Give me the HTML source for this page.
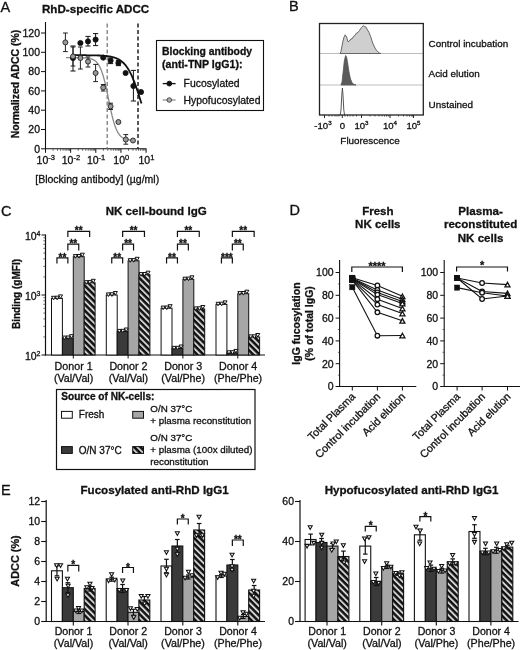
<!DOCTYPE html><html><head><meta charset="utf-8"><title>Figure</title><style>html,body{margin:0;padding:0;background:#fff}svg{display:block}text{stroke:#111;stroke-width:0.3px;font-family:'Liberation Sans', Arial, Helvetica, sans-serif}</style></head><body>
<svg width="520" height="650" viewBox="0 0 520 650">
<defs><pattern id="h" patternUnits="userSpaceOnUse" width="4.4" height="4.4" patternTransform="rotate(45)"><rect width="4.4" height="4.4" fill="#d2d2d2"/><rect width="4.4" height="2.5" fill="#111"/></pattern></defs>
<rect width="520" height="650" fill="#fff"/>
<text x="0.60" y="12.30" font-size="14.5" text-anchor="start" fill="#111">A</text>
<text x="42.00" y="12.50" font-size="11.6" text-anchor="start" font-weight="bold" fill="#111">RhD-specific ADCC</text>
<line x1="45.50" y1="22.00" x2="45.50" y2="149.30" stroke="#111" stroke-width="1.1"/>
<line x1="45.00" y1="148.80" x2="146.40" y2="148.80" stroke="#111" stroke-width="1.1"/>
<line x1="41.00" y1="148.80" x2="45.50" y2="148.80" stroke="#111" stroke-width="1"/>
<text x="40.00" y="152.60" font-size="10.5" text-anchor="end" fill="#111">0</text>
<line x1="41.00" y1="129.50" x2="45.50" y2="129.50" stroke="#111" stroke-width="1"/>
<text x="40.00" y="133.30" font-size="10.5" text-anchor="end" fill="#111">20</text>
<line x1="41.00" y1="110.20" x2="45.50" y2="110.20" stroke="#111" stroke-width="1"/>
<text x="40.00" y="114.00" font-size="10.5" text-anchor="end" fill="#111">40</text>
<line x1="41.00" y1="90.90" x2="45.50" y2="90.90" stroke="#111" stroke-width="1"/>
<text x="40.00" y="94.70" font-size="10.5" text-anchor="end" fill="#111">60</text>
<line x1="41.00" y1="71.60" x2="45.50" y2="71.60" stroke="#111" stroke-width="1"/>
<text x="40.00" y="75.40" font-size="10.5" text-anchor="end" fill="#111">80</text>
<line x1="41.00" y1="52.30" x2="45.50" y2="52.30" stroke="#111" stroke-width="1"/>
<text x="40.00" y="56.10" font-size="10.5" text-anchor="end" fill="#111">100</text>
<line x1="41.00" y1="33.00" x2="45.50" y2="33.00" stroke="#111" stroke-width="1"/>
<text x="40.00" y="36.80" font-size="10.5" text-anchor="end" fill="#111">120</text>
<text x="18.60" y="84.00" font-size="10.5" text-anchor="middle" font-weight="bold" transform="rotate(-90 18.60 84.00)" fill="#111">Normalized ADCC (%)</text>
<line x1="45.50" y1="148.80" x2="45.50" y2="152.80" stroke="#111" stroke-width="1"/>
<text x="45.80" y="163.80" font-size="10.5" text-anchor="middle" fill="#111">10<tspan dy="-4" font-size="7.5">-3</tspan></text>
<line x1="53.07" y1="148.80" x2="53.07" y2="150.80" stroke="#111" stroke-width="0.6"/>
<line x1="57.50" y1="148.80" x2="57.50" y2="150.80" stroke="#111" stroke-width="0.6"/>
<line x1="60.64" y1="148.80" x2="60.64" y2="150.80" stroke="#111" stroke-width="0.6"/>
<line x1="63.08" y1="148.80" x2="63.08" y2="150.80" stroke="#111" stroke-width="0.6"/>
<line x1="65.07" y1="148.80" x2="65.07" y2="150.80" stroke="#111" stroke-width="0.6"/>
<line x1="66.75" y1="148.80" x2="66.75" y2="150.80" stroke="#111" stroke-width="0.6"/>
<line x1="68.21" y1="148.80" x2="68.21" y2="150.80" stroke="#111" stroke-width="0.6"/>
<line x1="69.50" y1="148.80" x2="69.50" y2="150.80" stroke="#111" stroke-width="0.6"/>
<line x1="70.65" y1="148.80" x2="70.65" y2="152.80" stroke="#111" stroke-width="1"/>
<text x="70.95" y="163.80" font-size="10.5" text-anchor="middle" fill="#111">10<tspan dy="-4" font-size="7.5">-2</tspan></text>
<line x1="78.22" y1="148.80" x2="78.22" y2="150.80" stroke="#111" stroke-width="0.6"/>
<line x1="82.65" y1="148.80" x2="82.65" y2="150.80" stroke="#111" stroke-width="0.6"/>
<line x1="85.79" y1="148.80" x2="85.79" y2="150.80" stroke="#111" stroke-width="0.6"/>
<line x1="88.23" y1="148.80" x2="88.23" y2="150.80" stroke="#111" stroke-width="0.6"/>
<line x1="90.22" y1="148.80" x2="90.22" y2="150.80" stroke="#111" stroke-width="0.6"/>
<line x1="91.90" y1="148.80" x2="91.90" y2="150.80" stroke="#111" stroke-width="0.6"/>
<line x1="93.36" y1="148.80" x2="93.36" y2="150.80" stroke="#111" stroke-width="0.6"/>
<line x1="94.65" y1="148.80" x2="94.65" y2="150.80" stroke="#111" stroke-width="0.6"/>
<line x1="95.80" y1="148.80" x2="95.80" y2="152.80" stroke="#111" stroke-width="1"/>
<text x="96.10" y="163.80" font-size="10.5" text-anchor="middle" fill="#111">10<tspan dy="-4" font-size="7.5">-1</tspan></text>
<line x1="103.37" y1="148.80" x2="103.37" y2="150.80" stroke="#111" stroke-width="0.6"/>
<line x1="107.80" y1="148.80" x2="107.80" y2="150.80" stroke="#111" stroke-width="0.6"/>
<line x1="110.94" y1="148.80" x2="110.94" y2="150.80" stroke="#111" stroke-width="0.6"/>
<line x1="113.38" y1="148.80" x2="113.38" y2="150.80" stroke="#111" stroke-width="0.6"/>
<line x1="115.37" y1="148.80" x2="115.37" y2="150.80" stroke="#111" stroke-width="0.6"/>
<line x1="117.05" y1="148.80" x2="117.05" y2="150.80" stroke="#111" stroke-width="0.6"/>
<line x1="118.51" y1="148.80" x2="118.51" y2="150.80" stroke="#111" stroke-width="0.6"/>
<line x1="119.80" y1="148.80" x2="119.80" y2="150.80" stroke="#111" stroke-width="0.6"/>
<line x1="120.95" y1="148.80" x2="120.95" y2="152.80" stroke="#111" stroke-width="1"/>
<text x="121.25" y="163.80" font-size="10.5" text-anchor="middle" fill="#111">10<tspan dy="-4" font-size="7.5">0</tspan></text>
<line x1="128.52" y1="148.80" x2="128.52" y2="150.80" stroke="#111" stroke-width="0.6"/>
<line x1="132.95" y1="148.80" x2="132.95" y2="150.80" stroke="#111" stroke-width="0.6"/>
<line x1="136.09" y1="148.80" x2="136.09" y2="150.80" stroke="#111" stroke-width="0.6"/>
<line x1="138.53" y1="148.80" x2="138.53" y2="150.80" stroke="#111" stroke-width="0.6"/>
<line x1="140.52" y1="148.80" x2="140.52" y2="150.80" stroke="#111" stroke-width="0.6"/>
<line x1="142.20" y1="148.80" x2="142.20" y2="150.80" stroke="#111" stroke-width="0.6"/>
<line x1="143.66" y1="148.80" x2="143.66" y2="150.80" stroke="#111" stroke-width="0.6"/>
<line x1="144.95" y1="148.80" x2="144.95" y2="150.80" stroke="#111" stroke-width="0.6"/>
<line x1="146.10" y1="148.80" x2="146.10" y2="152.80" stroke="#111" stroke-width="1"/>
<text x="146.40" y="163.80" font-size="10.5" text-anchor="middle" fill="#111">10<tspan dy="-4" font-size="7.5">1</tspan></text>
<text x="97.20" y="182.50" font-size="10.5" text-anchor="middle" fill="#111">[Blocking antibody] (µg/ml)</text>
<line x1="107.20" y1="23.50" x2="107.20" y2="148.80" stroke="#7a7a7a" stroke-width="1.3" stroke-dasharray="4 2.5"/>
<line x1="138.00" y1="23.50" x2="138.00" y2="148.80" stroke="#111" stroke-width="1.4" stroke-dasharray="4 2.5"/>
<path d="M66.0 57.6L67.0 57.6L68.0 57.6L69.0 57.6L70.0 57.6L71.0 57.6L72.0 57.6L73.0 57.6L74.0 57.6L75.0 57.6L76.0 57.6L77.0 57.6L78.0 57.7L79.0 57.7L80.0 57.7L81.0 57.7L82.0 57.8L83.0 57.8L84.0 57.8L85.0 57.9L86.0 58.0L87.0 58.1L88.0 58.2L89.0 58.4L90.0 58.6L91.0 58.9L92.0 59.2L93.0 59.6L94.0 60.1L95.0 60.8L96.0 61.6L97.0 62.6L98.0 63.9L99.0 65.4L100.0 67.3L101.0 69.5L102.0 72.1L103.0 75.2L104.0 78.8L105.0 82.7L106.0 87.1L107.0 91.7L108.0 96.6L109.0 101.5L110.0 106.4L111.0 111.0L112.0 115.4L113.0 119.3L114.0 122.9L115.0 126.0L116.0 128.6L117.0 130.8L118.0 132.7L119.0 134.2L120.0 135.5L121.0 136.5L122.0 137.3L123.0 138.0L124.0 138.5L125.0 138.9L126.0 139.2L127.0 139.5L128.0 139.7L129.0 139.9L130.0 140.0L131.0 140.1L132.0 140.2L133.0 140.3L134.0 140.3" stroke="#888" stroke-width="1.3" fill="none"/>
<path d="M72.0 55.2L72.5 55.2L73.0 55.2L73.5 55.2L74.0 55.2L74.5 55.2L75.0 55.2L75.5 55.2L76.0 55.2L76.5 55.2L77.0 55.2L77.5 55.2L78.0 55.2L78.5 55.2L79.0 55.2L79.5 55.2L80.0 55.2L80.5 55.2L81.0 55.2L81.5 55.2L82.0 55.2L82.5 55.2L83.0 55.2L83.5 55.2L84.0 55.2L84.5 55.2L85.0 55.2L85.5 55.2L86.0 55.2L86.5 55.3L87.0 55.3L87.5 55.3L88.0 55.3L88.5 55.3L89.0 55.3L89.5 55.3L90.0 55.3L90.5 55.3L91.0 55.3L91.5 55.3L92.0 55.3L92.5 55.3L93.0 55.3L93.5 55.3L94.0 55.3L94.5 55.4L95.0 55.4L95.5 55.4L96.0 55.4L96.5 55.4L97.0 55.4L97.5 55.4L98.0 55.5L98.5 55.5L99.0 55.5L99.5 55.5L100.0 55.5L100.5 55.6L101.0 55.6L101.5 55.6L102.0 55.6L102.5 55.7L103.0 55.7L103.5 55.7L104.0 55.8L104.5 55.8L105.0 55.9L105.5 55.9L106.0 56.0L106.5 56.0L107.0 56.1L107.5 56.1L108.0 56.2L108.5 56.3L109.0 56.4L109.5 56.4L110.0 56.5L110.5 56.6L111.0 56.7L111.5 56.8L112.0 56.9L112.5 57.0L113.0 57.2L113.5 57.3L114.0 57.5L114.5 57.6L115.0 57.8L115.5 58.0L116.0 58.2L116.5 58.4L117.0 58.6L117.5 58.8L118.0 59.0L118.5 59.3L119.0 59.6L119.5 59.9L120.0 60.2L120.5 60.5L121.0 60.9L121.5 61.3L122.0 61.7L122.5 62.1L123.0 62.5L123.5 63.0L124.0 63.5L124.5 64.0L125.0 64.6L125.5 65.2L126.0 65.8L126.5 66.5L127.0 67.2L127.5 67.9L128.0 68.7L128.5 69.5L129.0 70.4L129.5 71.2L130.0 72.2L130.5 73.2L131.0 74.2L131.5 75.2L132.0 76.3L132.5 77.5L133.0 78.6L133.5 79.9L134.0 81.1L134.5 82.4L135.0 83.8L135.5 85.2L136.0 86.6L136.5 88.0L137.0 89.5L137.5 91.0L138.0 92.5L138.5 94.1L139.0 95.6L139.5 97.2L140.0 98.8L140.5 100.4L141.0 102.0L141.5 103.6" stroke="#111" stroke-width="1.8" fill="none"/>
<line x1="73.00" y1="46.00" x2="73.00" y2="71.00" stroke="#111" stroke-width="1"/>
<line x1="70.40" y1="46.00" x2="75.60" y2="46.00" stroke="#111" stroke-width="1"/>
<line x1="70.40" y1="71.00" x2="75.60" y2="71.00" stroke="#111" stroke-width="1"/>
<line x1="88.00" y1="36.40" x2="88.00" y2="46.00" stroke="#111" stroke-width="1"/>
<line x1="85.40" y1="36.40" x2="90.60" y2="36.40" stroke="#111" stroke-width="1"/>
<line x1="85.40" y1="46.00" x2="90.60" y2="46.00" stroke="#111" stroke-width="1"/>
<line x1="95.60" y1="33.60" x2="95.60" y2="45.60" stroke="#111" stroke-width="1"/>
<line x1="93.00" y1="33.60" x2="98.20" y2="33.60" stroke="#111" stroke-width="1"/>
<line x1="93.00" y1="45.60" x2="98.20" y2="45.60" stroke="#111" stroke-width="1"/>
<line x1="110.60" y1="58.00" x2="110.60" y2="63.60" stroke="#111" stroke-width="1"/>
<line x1="108.00" y1="58.00" x2="113.20" y2="58.00" stroke="#111" stroke-width="1"/>
<line x1="108.00" y1="63.60" x2="113.20" y2="63.60" stroke="#111" stroke-width="1"/>
<line x1="118.40" y1="60.40" x2="118.40" y2="65.60" stroke="#111" stroke-width="1"/>
<line x1="115.80" y1="60.40" x2="121.00" y2="60.40" stroke="#111" stroke-width="1"/>
<line x1="115.80" y1="65.60" x2="121.00" y2="65.60" stroke="#111" stroke-width="1"/>
<line x1="133.40" y1="70.40" x2="133.40" y2="101.00" stroke="#111" stroke-width="1"/>
<line x1="130.80" y1="70.40" x2="136.00" y2="70.40" stroke="#111" stroke-width="1"/>
<line x1="130.80" y1="101.00" x2="136.00" y2="101.00" stroke="#111" stroke-width="1"/>
<line x1="65.40" y1="33.00" x2="65.40" y2="51.60" stroke="#222" stroke-width="1"/>
<line x1="63.00" y1="33.00" x2="67.80" y2="33.00" stroke="#222" stroke-width="1"/>
<line x1="63.00" y1="51.60" x2="67.80" y2="51.60" stroke="#222" stroke-width="1"/>
<line x1="73.00" y1="47.00" x2="73.00" y2="66.00" stroke="#222" stroke-width="1"/>
<line x1="70.60" y1="47.00" x2="75.40" y2="47.00" stroke="#222" stroke-width="1"/>
<line x1="70.60" y1="66.00" x2="75.40" y2="66.00" stroke="#222" stroke-width="1"/>
<line x1="80.40" y1="47.00" x2="80.40" y2="69.00" stroke="#222" stroke-width="1"/>
<line x1="78.00" y1="47.00" x2="82.80" y2="47.00" stroke="#222" stroke-width="1"/>
<line x1="78.00" y1="69.00" x2="82.80" y2="69.00" stroke="#222" stroke-width="1"/>
<line x1="88.00" y1="57.00" x2="88.00" y2="67.00" stroke="#222" stroke-width="1"/>
<line x1="85.60" y1="57.00" x2="90.40" y2="57.00" stroke="#222" stroke-width="1"/>
<line x1="85.60" y1="67.00" x2="90.40" y2="67.00" stroke="#222" stroke-width="1"/>
<line x1="95.60" y1="64.40" x2="95.60" y2="81.60" stroke="#222" stroke-width="1"/>
<line x1="93.20" y1="64.40" x2="98.00" y2="64.40" stroke="#222" stroke-width="1"/>
<line x1="93.20" y1="81.60" x2="98.00" y2="81.60" stroke="#222" stroke-width="1"/>
<line x1="103.20" y1="84.50" x2="103.20" y2="91.00" stroke="#222" stroke-width="1"/>
<line x1="100.80" y1="84.50" x2="105.60" y2="84.50" stroke="#222" stroke-width="1"/>
<line x1="100.80" y1="91.00" x2="105.60" y2="91.00" stroke="#222" stroke-width="1"/>
<line x1="110.60" y1="103.20" x2="110.60" y2="109.50" stroke="#222" stroke-width="1"/>
<line x1="108.20" y1="103.20" x2="113.00" y2="103.20" stroke="#222" stroke-width="1"/>
<line x1="108.20" y1="109.50" x2="113.00" y2="109.50" stroke="#222" stroke-width="1"/>
<line x1="125.80" y1="134.60" x2="125.80" y2="144.20" stroke="#222" stroke-width="1"/>
<line x1="123.40" y1="134.60" x2="128.20" y2="134.60" stroke="#222" stroke-width="1"/>
<line x1="123.40" y1="144.20" x2="128.20" y2="144.20" stroke="#222" stroke-width="1"/>
<circle cx="73.00" cy="58.00" r="2.6" fill="#111" stroke="#111" stroke-width="0.8"/>
<circle cx="80.40" cy="43.00" r="2.6" fill="#111" stroke="#111" stroke-width="0.8"/>
<circle cx="88.00" cy="41.40" r="2.6" fill="#111" stroke="#111" stroke-width="0.8"/>
<circle cx="95.60" cy="39.60" r="2.6" fill="#111" stroke="#111" stroke-width="0.8"/>
<circle cx="103.20" cy="57.60" r="2.6" fill="#111" stroke="#111" stroke-width="0.8"/>
<circle cx="110.60" cy="60.60" r="2.6" fill="#111" stroke="#111" stroke-width="0.8"/>
<circle cx="118.40" cy="63.00" r="2.6" fill="#111" stroke="#111" stroke-width="0.8"/>
<circle cx="125.60" cy="73.00" r="2.6" fill="#111" stroke="#111" stroke-width="0.8"/>
<circle cx="133.40" cy="86.00" r="2.6" fill="#111" stroke="#111" stroke-width="0.8"/>
<circle cx="141.00" cy="92.00" r="2.6" fill="#111" stroke="#111" stroke-width="0.8"/>
<circle cx="65.40" cy="42.40" r="2.5" fill="#999" stroke="#222" stroke-width="0.9"/>
<circle cx="73.00" cy="56.40" r="2.5" fill="#999" stroke="#222" stroke-width="0.9"/>
<circle cx="80.40" cy="58.00" r="2.5" fill="#999" stroke="#222" stroke-width="0.9"/>
<circle cx="88.00" cy="61.60" r="2.5" fill="#999" stroke="#222" stroke-width="0.9"/>
<circle cx="95.60" cy="73.00" r="2.5" fill="#999" stroke="#222" stroke-width="0.9"/>
<circle cx="103.20" cy="87.60" r="2.5" fill="#999" stroke="#222" stroke-width="0.9"/>
<circle cx="110.60" cy="106.40" r="2.5" fill="#999" stroke="#222" stroke-width="0.9"/>
<circle cx="118.40" cy="122.00" r="2.5" fill="#999" stroke="#222" stroke-width="0.9"/>
<circle cx="125.80" cy="139.50" r="2.5" fill="#999" stroke="#222" stroke-width="0.9"/>
<circle cx="133.00" cy="140.50" r="2.5" fill="#999" stroke="#222" stroke-width="0.9"/>
<rect x="156.50" y="40.50" width="107.00" height="70.00" fill="#fff" stroke="#111" stroke-width="1.1"/>
<text x="162.00" y="55.30" font-size="10.4" text-anchor="start" font-weight="bold" fill="#111">Blocking antibody</text>
<text x="162.00" y="67.60" font-size="10.6" text-anchor="start" font-weight="bold" fill="#111">(anti-TNP IgG1):</text>
<line x1="162.70" y1="83.60" x2="175.60" y2="83.60" stroke="#111" stroke-width="1.3"/>
<circle cx="169.30" cy="83.60" r="2.4" fill="#111" stroke="#111" stroke-width="1"/>
<text x="183.60" y="87.00" font-size="10.4" text-anchor="start" fill="#111">Fucosylated</text>
<line x1="162.70" y1="100.00" x2="175.60" y2="100.00" stroke="#888" stroke-width="1.2"/>
<circle cx="169.30" cy="100.00" r="2.3" fill="#aaa" stroke="#333" stroke-width="0.8"/>
<text x="183.60" y="103.50" font-size="10.4" text-anchor="start" fill="#111">Hypofucosylated</text>
<text x="289.00" y="11.40" font-size="14.5" text-anchor="start" fill="#111">B</text>
<path d="M319.5 53.5H423.3" stroke="#bdbdbd" stroke-width="1.2" fill="none"/>
<path d="M319.5 85H423.3" stroke="#bdbdbd" stroke-width="1.2" fill="none"/>
<path d="M340 53.5L341 51.5L342.2 45L343.7 38L345.2 34.8L346.6 37L348 41.8L349.3 41L351 38.8L352 39L353.5 36.3L355 35.5L356.5 33L358 32.5L359.5 30.5L361.5 27.5L363.5 25.5L364.8 27L365.8 26.8L367.5 30L369 32.5L370.6 36.5L372 41L373.5 45L375.5 49L377.5 51.5L379.5 53L381 53.5Z" stroke="#666" stroke-width="1" fill="#cfcfcf" stroke-linejoin="round"/>
<path d="M341 85L342 82L343 73L344.3 61L345.6 55.5L346.6 57L347.8 64L349 72L350.5 79L352 82.5L354 84.5L356 85Z" stroke="#555" stroke-width="0.8" fill="#5a5a5a" stroke-linejoin="round"/>
<path d="M340.2 115L341 110L341.8 95L342.4 88L343 95L343.8 110L344.6 115" stroke="#444" stroke-width="0.9" fill="#fff" stroke-linejoin="round"/>
<rect x="319.50" y="23.50" width="103.80" height="91.50" fill="none" stroke="#222" stroke-width="1.3"/>
<line x1="324.50" y1="115.00" x2="324.50" y2="118.00" stroke="#111" stroke-width="0.9"/>
<line x1="342.30" y1="115.00" x2="342.30" y2="118.00" stroke="#111" stroke-width="0.9"/>
<line x1="361.50" y1="115.00" x2="361.50" y2="118.00" stroke="#111" stroke-width="0.9"/>
<line x1="390.00" y1="115.00" x2="390.00" y2="118.00" stroke="#111" stroke-width="0.9"/>
<line x1="413.50" y1="115.00" x2="413.50" y2="118.00" stroke="#111" stroke-width="0.9"/>
<line x1="329.00" y1="115.00" x2="329.00" y2="116.80" stroke="#111" stroke-width="0.5"/>
<line x1="332.00" y1="115.00" x2="332.00" y2="116.80" stroke="#111" stroke-width="0.5"/>
<line x1="335.00" y1="115.00" x2="335.00" y2="116.80" stroke="#111" stroke-width="0.5"/>
<line x1="337.00" y1="115.00" x2="337.00" y2="116.80" stroke="#111" stroke-width="0.5"/>
<line x1="339.00" y1="115.00" x2="339.00" y2="116.80" stroke="#111" stroke-width="0.5"/>
<line x1="345.00" y1="115.00" x2="345.00" y2="116.80" stroke="#111" stroke-width="0.5"/>
<line x1="347.50" y1="115.00" x2="347.50" y2="116.80" stroke="#111" stroke-width="0.5"/>
<line x1="350.00" y1="115.00" x2="350.00" y2="116.80" stroke="#111" stroke-width="0.5"/>
<line x1="353.00" y1="115.00" x2="353.00" y2="116.80" stroke="#111" stroke-width="0.5"/>
<line x1="356.50" y1="115.00" x2="356.50" y2="116.80" stroke="#111" stroke-width="0.5"/>
<line x1="370.00" y1="115.00" x2="370.00" y2="116.80" stroke="#111" stroke-width="0.5"/>
<line x1="375.00" y1="115.00" x2="375.00" y2="116.80" stroke="#111" stroke-width="0.5"/>
<line x1="379.00" y1="115.00" x2="379.00" y2="116.80" stroke="#111" stroke-width="0.5"/>
<line x1="382.00" y1="115.00" x2="382.00" y2="116.80" stroke="#111" stroke-width="0.5"/>
<line x1="384.50" y1="115.00" x2="384.50" y2="116.80" stroke="#111" stroke-width="0.5"/>
<line x1="386.50" y1="115.00" x2="386.50" y2="116.80" stroke="#111" stroke-width="0.5"/>
<line x1="388.30" y1="115.00" x2="388.30" y2="116.80" stroke="#111" stroke-width="0.5"/>
<line x1="398.50" y1="115.00" x2="398.50" y2="116.80" stroke="#111" stroke-width="0.5"/>
<line x1="403.50" y1="115.00" x2="403.50" y2="116.80" stroke="#111" stroke-width="0.5"/>
<line x1="407.00" y1="115.00" x2="407.00" y2="116.80" stroke="#111" stroke-width="0.5"/>
<line x1="409.50" y1="115.00" x2="409.50" y2="116.80" stroke="#111" stroke-width="0.5"/>
<line x1="411.30" y1="115.00" x2="411.30" y2="116.80" stroke="#111" stroke-width="0.5"/>
<line x1="412.50" y1="115.00" x2="412.50" y2="116.80" stroke="#111" stroke-width="0.5"/>
<text x="323.00" y="129.00" font-size="9.6" text-anchor="middle" fill="#111">-10<tspan dy="-4" font-size="6.2">3</tspan></text>
<text x="342.30" y="129.00" font-size="9.6" text-anchor="middle" fill="#111">0</text>
<text x="361.50" y="129.00" font-size="9.6" text-anchor="middle" fill="#111">10<tspan dy="-4" font-size="6.2">3</tspan></text>
<text x="390.00" y="129.00" font-size="9.6" text-anchor="middle" fill="#111">10<tspan dy="-4" font-size="6.2">4</tspan></text>
<text x="413.50" y="129.00" font-size="9.6" text-anchor="middle" fill="#111">10<tspan dy="-4" font-size="6.2">5</tspan></text>
<text x="370.00" y="144.20" font-size="9.9" text-anchor="middle" fill="#111">Fluorescence</text>
<text x="428.60" y="47.10" font-size="9.9" text-anchor="start" fill="#111">Control incubation</text>
<text x="428.60" y="77.40" font-size="9.9" text-anchor="start" fill="#111">Acid elution</text>
<text x="428.60" y="108.20" font-size="9.9" text-anchor="start" fill="#111">Unstained</text>
<text x="1.00" y="215.50" font-size="14.5" text-anchor="start" fill="#111">C</text>
<text x="156.20" y="214.60" font-size="11.6" text-anchor="middle" font-weight="bold" fill="#111">NK cell-bound IgG</text>
<line x1="45.50" y1="234.50" x2="45.50" y2="355.50" stroke="#111" stroke-width="1.2"/>
<line x1="45.00" y1="355.00" x2="265.00" y2="355.00" stroke="#111" stroke-width="1.2"/>
<line x1="41.50" y1="355.00" x2="45.50" y2="355.00" stroke="#111" stroke-width="1"/>
<text x="40.50" y="359.80" font-size="10.5" text-anchor="end" fill="#111">10<tspan dy="-4" font-size="7">2</tspan></text>
<line x1="43.30" y1="336.94" x2="45.50" y2="336.94" stroke="#111" stroke-width="0.6"/>
<line x1="43.30" y1="326.37" x2="45.50" y2="326.37" stroke="#111" stroke-width="0.6"/>
<line x1="43.30" y1="318.88" x2="45.50" y2="318.88" stroke="#111" stroke-width="0.6"/>
<line x1="43.30" y1="313.06" x2="45.50" y2="313.06" stroke="#111" stroke-width="0.6"/>
<line x1="43.30" y1="308.31" x2="45.50" y2="308.31" stroke="#111" stroke-width="0.6"/>
<line x1="43.30" y1="304.29" x2="45.50" y2="304.29" stroke="#111" stroke-width="0.6"/>
<line x1="43.30" y1="300.81" x2="45.50" y2="300.81" stroke="#111" stroke-width="0.6"/>
<line x1="43.30" y1="297.75" x2="45.50" y2="297.75" stroke="#111" stroke-width="0.6"/>
<line x1="41.50" y1="295.00" x2="45.50" y2="295.00" stroke="#111" stroke-width="1"/>
<text x="40.50" y="299.80" font-size="10.5" text-anchor="end" fill="#111">10<tspan dy="-4" font-size="7">3</tspan></text>
<line x1="43.30" y1="276.94" x2="45.50" y2="276.94" stroke="#111" stroke-width="0.6"/>
<line x1="43.30" y1="266.37" x2="45.50" y2="266.37" stroke="#111" stroke-width="0.6"/>
<line x1="43.30" y1="258.88" x2="45.50" y2="258.88" stroke="#111" stroke-width="0.6"/>
<line x1="43.30" y1="253.06" x2="45.50" y2="253.06" stroke="#111" stroke-width="0.6"/>
<line x1="43.30" y1="248.31" x2="45.50" y2="248.31" stroke="#111" stroke-width="0.6"/>
<line x1="43.30" y1="244.29" x2="45.50" y2="244.29" stroke="#111" stroke-width="0.6"/>
<line x1="43.30" y1="240.81" x2="45.50" y2="240.81" stroke="#111" stroke-width="0.6"/>
<line x1="43.30" y1="237.75" x2="45.50" y2="237.75" stroke="#111" stroke-width="0.6"/>
<line x1="41.50" y1="235.00" x2="45.50" y2="235.00" stroke="#111" stroke-width="1"/>
<text x="40.50" y="239.80" font-size="10.5" text-anchor="end" fill="#111">10<tspan dy="-4" font-size="7">4</tspan></text>
<text x="19.50" y="294.00" font-size="10" text-anchor="middle" font-weight="bold" transform="rotate(-90 19.50 294.00)" fill="#111">Binding (gMFI)</text>
<rect x="51.50" y="298.40" width="10.90" height="56.60" fill="#fff" stroke="#111" stroke-width="1"/>
<rect x="62.40" y="338.20" width="10.90" height="16.80" fill="#3a3a3a" stroke="#111" stroke-width="1"/>
<rect x="73.30" y="256.70" width="10.90" height="98.30" fill="#a6a6a6" stroke="#111" stroke-width="1"/>
<rect x="84.20" y="282.80" width="10.90" height="72.20" fill="url(#h)" stroke="#111" stroke-width="1"/>
<line x1="54.95" y1="298.00" x2="58.95" y2="298.00" stroke="#111" stroke-width="1"/>
<path d="M51.55 296.30L55.55 296.30L53.55 299.90Z" fill="#fff" stroke="#111" stroke-width="1.0"/>
<path d="M55.15 296.20L59.15 296.20L57.15 299.80Z" fill="#fff" stroke="#111" stroke-width="1.0"/>
<path d="M58.55 294.90L62.55 294.90L60.55 298.50Z" fill="#fff" stroke="#111" stroke-width="1.0"/>
<line x1="65.85" y1="337.80" x2="69.85" y2="337.80" stroke="#111" stroke-width="1"/>
<path d="M62.45 336.10L66.45 336.10L64.45 339.70Z" fill="#fff" stroke="#111" stroke-width="1.0"/>
<path d="M66.05 336.00L70.05 336.00L68.05 339.60Z" fill="#fff" stroke="#111" stroke-width="1.0"/>
<path d="M69.45 334.70L73.45 334.70L71.45 338.30Z" fill="#fff" stroke="#111" stroke-width="1.0"/>
<line x1="76.75" y1="256.30" x2="80.75" y2="256.30" stroke="#111" stroke-width="1"/>
<path d="M73.35 254.60L77.35 254.60L75.35 258.20Z" fill="#fff" stroke="#111" stroke-width="1.0"/>
<path d="M76.95 254.50L80.95 254.50L78.95 258.10Z" fill="#fff" stroke="#111" stroke-width="1.0"/>
<path d="M80.35 253.20L84.35 253.20L82.35 256.80Z" fill="#fff" stroke="#111" stroke-width="1.0"/>
<line x1="87.65" y1="282.40" x2="91.65" y2="282.40" stroke="#111" stroke-width="1"/>
<path d="M84.25 280.70L88.25 280.70L86.25 284.30Z" fill="#fff" stroke="#111" stroke-width="1.0"/>
<path d="M87.85 280.60L91.85 280.60L89.85 284.20Z" fill="#fff" stroke="#111" stroke-width="1.0"/>
<path d="M91.25 279.30L95.25 279.30L93.25 282.90Z" fill="#fff" stroke="#111" stroke-width="1.0"/>
<path d="M56.95 263.60V257.80H67.85V263.60" stroke="#111" stroke-width="1.2" fill="none"/>
<text x="62.40" y="260.80" font-size="10" text-anchor="middle" font-weight="bold" fill="#111" stroke="#111" stroke-width="0.35">**</text>
<path d="M67.85 250.40V244.20H78.75V250.40" stroke="#111" stroke-width="1.2" fill="none"/>
<text x="73.30" y="247.20" font-size="10" text-anchor="middle" font-weight="bold" fill="#111" stroke="#111" stroke-width="0.35">**</text>
<path d="M67.85 237.10V231.30H89.65V237.10" stroke="#111" stroke-width="1.2" fill="none"/>
<text x="78.75" y="234.30" font-size="10" text-anchor="middle" font-weight="bold" fill="#111" stroke="#111" stroke-width="0.35">**</text>
<line x1="73.30" y1="355.00" x2="73.30" y2="358.50" stroke="#111" stroke-width="1"/>
<text x="73.60" y="369.70" font-size="10.7" text-anchor="middle" fill="#111">Donor 1</text>
<text x="73.60" y="381.80" font-size="10.7" text-anchor="middle" fill="#111">(Val/Val)</text>
<rect x="106.30" y="295.00" width="10.90" height="60.00" fill="#fff" stroke="#111" stroke-width="1"/>
<rect x="117.20" y="331.50" width="10.90" height="23.50" fill="#3a3a3a" stroke="#111" stroke-width="1"/>
<rect x="128.10" y="260.80" width="10.90" height="94.20" fill="#a6a6a6" stroke="#111" stroke-width="1"/>
<rect x="139.00" y="274.70" width="10.90" height="80.30" fill="url(#h)" stroke="#111" stroke-width="1"/>
<line x1="109.75" y1="294.60" x2="113.75" y2="294.60" stroke="#111" stroke-width="1"/>
<path d="M106.35 292.90L110.35 292.90L108.35 296.50Z" fill="#fff" stroke="#111" stroke-width="1.0"/>
<path d="M109.95 292.80L113.95 292.80L111.95 296.40Z" fill="#fff" stroke="#111" stroke-width="1.0"/>
<path d="M113.35 291.50L117.35 291.50L115.35 295.10Z" fill="#fff" stroke="#111" stroke-width="1.0"/>
<line x1="120.65" y1="331.10" x2="124.65" y2="331.10" stroke="#111" stroke-width="1"/>
<path d="M117.25 329.40L121.25 329.40L119.25 333.00Z" fill="#fff" stroke="#111" stroke-width="1.0"/>
<path d="M120.85 329.30L124.85 329.30L122.85 332.90Z" fill="#fff" stroke="#111" stroke-width="1.0"/>
<path d="M124.25 328.00L128.25 328.00L126.25 331.60Z" fill="#fff" stroke="#111" stroke-width="1.0"/>
<line x1="131.55" y1="260.40" x2="135.55" y2="260.40" stroke="#111" stroke-width="1"/>
<path d="M128.15 258.70L132.15 258.70L130.15 262.30Z" fill="#fff" stroke="#111" stroke-width="1.0"/>
<path d="M131.75 258.60L135.75 258.60L133.75 262.20Z" fill="#fff" stroke="#111" stroke-width="1.0"/>
<path d="M135.15 257.30L139.15 257.30L137.15 260.90Z" fill="#fff" stroke="#111" stroke-width="1.0"/>
<line x1="142.45" y1="274.30" x2="146.45" y2="274.30" stroke="#111" stroke-width="1"/>
<path d="M139.05 272.60L143.05 272.60L141.05 276.20Z" fill="#fff" stroke="#111" stroke-width="1.0"/>
<path d="M142.65 272.50L146.65 272.50L144.65 276.10Z" fill="#fff" stroke="#111" stroke-width="1.0"/>
<path d="M146.05 271.20L150.05 271.20L148.05 274.80Z" fill="#fff" stroke="#111" stroke-width="1.0"/>
<path d="M111.75 263.60V257.80H122.65V263.60" stroke="#111" stroke-width="1.2" fill="none"/>
<text x="117.20" y="260.80" font-size="10" text-anchor="middle" font-weight="bold" fill="#111" stroke="#111" stroke-width="0.35">**</text>
<path d="M122.65 250.40V244.20H133.55V250.40" stroke="#111" stroke-width="1.2" fill="none"/>
<text x="128.10" y="247.20" font-size="10" text-anchor="middle" font-weight="bold" fill="#111" stroke="#111" stroke-width="0.35">**</text>
<path d="M122.65 237.10V231.30H144.45V237.10" stroke="#111" stroke-width="1.2" fill="none"/>
<text x="133.55" y="234.30" font-size="10" text-anchor="middle" font-weight="bold" fill="#111" stroke="#111" stroke-width="0.35">**</text>
<line x1="128.10" y1="355.00" x2="128.10" y2="358.50" stroke="#111" stroke-width="1"/>
<text x="128.40" y="369.70" font-size="10.7" text-anchor="middle" fill="#111">Donor 2</text>
<text x="128.40" y="381.80" font-size="10.7" text-anchor="middle" fill="#111">(Val/Val)</text>
<rect x="161.10" y="308.20" width="10.90" height="46.80" fill="#fff" stroke="#111" stroke-width="1"/>
<rect x="172.00" y="348.50" width="10.90" height="6.50" fill="#3a3a3a" stroke="#111" stroke-width="1"/>
<rect x="182.90" y="279.30" width="10.90" height="75.70" fill="#a6a6a6" stroke="#111" stroke-width="1"/>
<rect x="193.80" y="309.00" width="10.90" height="46.00" fill="url(#h)" stroke="#111" stroke-width="1"/>
<line x1="164.55" y1="307.80" x2="168.55" y2="307.80" stroke="#111" stroke-width="1"/>
<path d="M161.15 306.10L165.15 306.10L163.15 309.70Z" fill="#fff" stroke="#111" stroke-width="1.0"/>
<path d="M164.75 306.00L168.75 306.00L166.75 309.60Z" fill="#fff" stroke="#111" stroke-width="1.0"/>
<path d="M168.15 304.70L172.15 304.70L170.15 308.30Z" fill="#fff" stroke="#111" stroke-width="1.0"/>
<line x1="175.45" y1="348.10" x2="179.45" y2="348.10" stroke="#111" stroke-width="1"/>
<path d="M172.05 346.40L176.05 346.40L174.05 350.00Z" fill="#fff" stroke="#111" stroke-width="1.0"/>
<path d="M175.65 346.30L179.65 346.30L177.65 349.90Z" fill="#fff" stroke="#111" stroke-width="1.0"/>
<path d="M179.05 345.00L183.05 345.00L181.05 348.60Z" fill="#fff" stroke="#111" stroke-width="1.0"/>
<line x1="186.35" y1="278.90" x2="190.35" y2="278.90" stroke="#111" stroke-width="1"/>
<path d="M182.95 277.20L186.95 277.20L184.95 280.80Z" fill="#fff" stroke="#111" stroke-width="1.0"/>
<path d="M186.55 277.10L190.55 277.10L188.55 280.70Z" fill="#fff" stroke="#111" stroke-width="1.0"/>
<path d="M189.95 275.80L193.95 275.80L191.95 279.40Z" fill="#fff" stroke="#111" stroke-width="1.0"/>
<line x1="197.25" y1="308.60" x2="201.25" y2="308.60" stroke="#111" stroke-width="1"/>
<path d="M193.85 306.90L197.85 306.90L195.85 310.50Z" fill="#fff" stroke="#111" stroke-width="1.0"/>
<path d="M197.45 306.80L201.45 306.80L199.45 310.40Z" fill="#fff" stroke="#111" stroke-width="1.0"/>
<path d="M200.85 305.50L204.85 305.50L202.85 309.10Z" fill="#fff" stroke="#111" stroke-width="1.0"/>
<path d="M166.55 263.60V257.80H177.45V263.60" stroke="#111" stroke-width="1.2" fill="none"/>
<text x="172.00" y="260.80" font-size="10" text-anchor="middle" font-weight="bold" fill="#111" stroke="#111" stroke-width="0.35">**</text>
<path d="M177.45 250.40V244.20H188.35V250.40" stroke="#111" stroke-width="1.2" fill="none"/>
<text x="182.90" y="247.20" font-size="10" text-anchor="middle" font-weight="bold" fill="#111" stroke="#111" stroke-width="0.35">**</text>
<path d="M177.45 237.10V231.30H199.25V237.10" stroke="#111" stroke-width="1.2" fill="none"/>
<text x="188.35" y="234.30" font-size="10" text-anchor="middle" font-weight="bold" fill="#111" stroke="#111" stroke-width="0.35">**</text>
<line x1="182.90" y1="355.00" x2="182.90" y2="358.50" stroke="#111" stroke-width="1"/>
<text x="183.20" y="369.70" font-size="10.7" text-anchor="middle" fill="#111">Donor 3</text>
<text x="183.20" y="381.80" font-size="10.7" text-anchor="middle" fill="#111">(Val/Phe)</text>
<rect x="216.00" y="304.40" width="10.90" height="50.60" fill="#fff" stroke="#111" stroke-width="1"/>
<rect x="226.90" y="352.90" width="10.90" height="2.10" fill="#3a3a3a" stroke="#111" stroke-width="1"/>
<rect x="237.80" y="293.70" width="10.90" height="61.30" fill="#a6a6a6" stroke="#111" stroke-width="1"/>
<rect x="248.70" y="337.00" width="10.90" height="18.00" fill="url(#h)" stroke="#111" stroke-width="1"/>
<line x1="219.45" y1="304.00" x2="223.45" y2="304.00" stroke="#111" stroke-width="1"/>
<path d="M216.05 302.30L220.05 302.30L218.05 305.90Z" fill="#fff" stroke="#111" stroke-width="1.0"/>
<path d="M219.65 302.20L223.65 302.20L221.65 305.80Z" fill="#fff" stroke="#111" stroke-width="1.0"/>
<path d="M223.05 300.90L227.05 300.90L225.05 304.50Z" fill="#fff" stroke="#111" stroke-width="1.0"/>
<line x1="230.35" y1="352.50" x2="234.35" y2="352.50" stroke="#111" stroke-width="1"/>
<path d="M226.95 350.80L230.95 350.80L228.95 354.40Z" fill="#fff" stroke="#111" stroke-width="1.0"/>
<path d="M230.55 350.70L234.55 350.70L232.55 354.30Z" fill="#fff" stroke="#111" stroke-width="1.0"/>
<path d="M233.95 349.40L237.95 349.40L235.95 353.00Z" fill="#fff" stroke="#111" stroke-width="1.0"/>
<line x1="241.25" y1="293.30" x2="245.25" y2="293.30" stroke="#111" stroke-width="1"/>
<path d="M237.85 291.60L241.85 291.60L239.85 295.20Z" fill="#fff" stroke="#111" stroke-width="1.0"/>
<path d="M241.45 291.50L245.45 291.50L243.45 295.10Z" fill="#fff" stroke="#111" stroke-width="1.0"/>
<path d="M244.85 290.20L248.85 290.20L246.85 293.80Z" fill="#fff" stroke="#111" stroke-width="1.0"/>
<line x1="252.15" y1="336.60" x2="256.15" y2="336.60" stroke="#111" stroke-width="1"/>
<path d="M248.75 334.90L252.75 334.90L250.75 338.50Z" fill="#fff" stroke="#111" stroke-width="1.0"/>
<path d="M252.35 334.80L256.35 334.80L254.35 338.40Z" fill="#fff" stroke="#111" stroke-width="1.0"/>
<path d="M255.75 333.50L259.75 333.50L257.75 337.10Z" fill="#fff" stroke="#111" stroke-width="1.0"/>
<path d="M221.45 263.60V257.80H232.35V263.60" stroke="#111" stroke-width="1.2" fill="none"/>
<text x="226.90" y="260.80" font-size="10" text-anchor="middle" font-weight="bold" fill="#111" stroke="#111" stroke-width="0.35">***</text>
<path d="M232.35 250.40V244.20H243.25V250.40" stroke="#111" stroke-width="1.2" fill="none"/>
<text x="237.80" y="247.20" font-size="10" text-anchor="middle" font-weight="bold" fill="#111" stroke="#111" stroke-width="0.35">**</text>
<path d="M232.35 237.10V231.30H254.15V237.10" stroke="#111" stroke-width="1.2" fill="none"/>
<text x="243.25" y="234.30" font-size="10" text-anchor="middle" font-weight="bold" fill="#111" stroke="#111" stroke-width="0.35">**</text>
<line x1="237.80" y1="355.00" x2="237.80" y2="358.50" stroke="#111" stroke-width="1"/>
<text x="238.10" y="369.70" font-size="10.7" text-anchor="middle" fill="#111">Donor 4</text>
<text x="238.10" y="381.80" font-size="10.7" text-anchor="middle" fill="#111">(Phe/Phe)</text>
<rect x="56.50" y="389.50" width="198.50" height="80.00" fill="#fff" stroke="#111" stroke-width="1.2"/>
<text x="61.30" y="400.00" font-size="10.1" text-anchor="start" font-weight="bold" fill="#111">Source of NK-cells:</text>
<rect x="61.50" y="411.40" width="10.80" height="6.80" fill="#fff" stroke="#111" stroke-width="1"/>
<text x="78.80" y="418.20" font-size="10" text-anchor="start" fill="#111">Fresh</text>
<rect x="132.70" y="411.40" width="10.80" height="6.80" fill="#a6a6a6" stroke="#111" stroke-width="1"/>
<text x="150.30" y="412.00" font-size="9.8" text-anchor="start" fill="#111">O/N 37°C</text>
<text x="150.30" y="423.60" font-size="9.8" text-anchor="start" fill="#111">+ plasma reconstitution</text>
<rect x="61.50" y="446.60" width="10.80" height="6.80" fill="#3a3a3a" stroke="#111" stroke-width="1"/>
<text x="78.80" y="453.70" font-size="10" text-anchor="start" fill="#111">O/N 37°C</text>
<rect x="132.70" y="446.60" width="10.80" height="6.80" fill="url(#h)" stroke="#111" stroke-width="1"/>
<text x="150.30" y="441.20" font-size="9.8" text-anchor="start" fill="#111">O/N 37°C</text>
<text x="150.30" y="453.40" font-size="9.8" text-anchor="start" fill="#111">+ plasma (100x diluted)</text>
<text x="150.30" y="464.60" font-size="9.8" text-anchor="start" fill="#111">reconstitution</text>
<text x="289.60" y="215.00" font-size="14.5" text-anchor="start" fill="#111">D</text>
<text x="377.80" y="215.00" font-size="11.5" text-anchor="middle" font-weight="bold" fill="#111">Fresh</text>
<text x="377.80" y="228.40" font-size="11.5" text-anchor="middle" font-weight="bold" fill="#111">NK cells</text>
<text x="480.60" y="214.50" font-size="11.6" text-anchor="middle" font-weight="bold" fill="#111">Plasma-</text>
<text x="480.60" y="228.20" font-size="11.6" text-anchor="middle" font-weight="bold" fill="#111">reconstituted</text>
<text x="480.60" y="242.10" font-size="11.6" text-anchor="middle" font-weight="bold" fill="#111">NK cells</text>
<line x1="339.60" y1="260.00" x2="339.60" y2="387.00" stroke="#111" stroke-width="1.1"/>
<line x1="339.10" y1="386.50" x2="416.30" y2="386.50" stroke="#111" stroke-width="1.1"/>
<line x1="335.60" y1="386.50" x2="339.60" y2="386.50" stroke="#111" stroke-width="1"/>
<text x="333.60" y="390.30" font-size="10.5" text-anchor="end" fill="#111">0</text>
<line x1="335.60" y1="363.70" x2="339.60" y2="363.70" stroke="#111" stroke-width="1"/>
<text x="333.60" y="367.50" font-size="10.5" text-anchor="end" fill="#111">20</text>
<line x1="335.60" y1="340.90" x2="339.60" y2="340.90" stroke="#111" stroke-width="1"/>
<text x="333.60" y="344.70" font-size="10.5" text-anchor="end" fill="#111">40</text>
<line x1="335.60" y1="318.10" x2="339.60" y2="318.10" stroke="#111" stroke-width="1"/>
<text x="333.60" y="321.90" font-size="10.5" text-anchor="end" fill="#111">60</text>
<line x1="335.60" y1="295.30" x2="339.60" y2="295.30" stroke="#111" stroke-width="1"/>
<text x="333.60" y="299.10" font-size="10.5" text-anchor="end" fill="#111">80</text>
<line x1="335.60" y1="272.50" x2="339.60" y2="272.50" stroke="#111" stroke-width="1"/>
<text x="333.60" y="276.30" font-size="10.5" text-anchor="end" fill="#111">100</text>
<line x1="337.90" y1="375.10" x2="339.60" y2="375.10" stroke="#111" stroke-width="0.6"/>
<line x1="337.90" y1="352.30" x2="339.60" y2="352.30" stroke="#111" stroke-width="0.6"/>
<line x1="337.90" y1="329.50" x2="339.60" y2="329.50" stroke="#111" stroke-width="0.6"/>
<line x1="337.90" y1="306.70" x2="339.60" y2="306.70" stroke="#111" stroke-width="0.6"/>
<line x1="337.90" y1="283.90" x2="339.60" y2="283.90" stroke="#111" stroke-width="0.6"/>
<line x1="352.30" y1="386.50" x2="352.30" y2="390.50" stroke="#111" stroke-width="1"/>
<line x1="377.40" y1="386.50" x2="377.40" y2="390.50" stroke="#111" stroke-width="1"/>
<line x1="402.40" y1="386.50" x2="402.40" y2="390.50" stroke="#111" stroke-width="1"/>
<line x1="444.20" y1="260.00" x2="444.20" y2="387.00" stroke="#111" stroke-width="1.1"/>
<line x1="443.70" y1="386.50" x2="520.00" y2="386.50" stroke="#111" stroke-width="1.1"/>
<line x1="440.20" y1="386.50" x2="444.20" y2="386.50" stroke="#111" stroke-width="1"/>
<text x="438.20" y="390.30" font-size="10.5" text-anchor="end" fill="#111">0</text>
<line x1="440.20" y1="363.70" x2="444.20" y2="363.70" stroke="#111" stroke-width="1"/>
<text x="438.20" y="367.50" font-size="10.5" text-anchor="end" fill="#111">20</text>
<line x1="440.20" y1="340.90" x2="444.20" y2="340.90" stroke="#111" stroke-width="1"/>
<text x="438.20" y="344.70" font-size="10.5" text-anchor="end" fill="#111">40</text>
<line x1="440.20" y1="318.10" x2="444.20" y2="318.10" stroke="#111" stroke-width="1"/>
<text x="438.20" y="321.90" font-size="10.5" text-anchor="end" fill="#111">60</text>
<line x1="440.20" y1="295.30" x2="444.20" y2="295.30" stroke="#111" stroke-width="1"/>
<text x="438.20" y="299.10" font-size="10.5" text-anchor="end" fill="#111">80</text>
<line x1="440.20" y1="272.50" x2="444.20" y2="272.50" stroke="#111" stroke-width="1"/>
<text x="438.20" y="276.30" font-size="10.5" text-anchor="end" fill="#111">100</text>
<line x1="442.50" y1="375.10" x2="444.20" y2="375.10" stroke="#111" stroke-width="0.6"/>
<line x1="442.50" y1="352.30" x2="444.20" y2="352.30" stroke="#111" stroke-width="0.6"/>
<line x1="442.50" y1="329.50" x2="444.20" y2="329.50" stroke="#111" stroke-width="0.6"/>
<line x1="442.50" y1="306.70" x2="444.20" y2="306.70" stroke="#111" stroke-width="0.6"/>
<line x1="442.50" y1="283.90" x2="444.20" y2="283.90" stroke="#111" stroke-width="0.6"/>
<line x1="457.10" y1="386.50" x2="457.10" y2="390.50" stroke="#111" stroke-width="1"/>
<line x1="482.10" y1="386.50" x2="482.10" y2="390.50" stroke="#111" stroke-width="1"/>
<line x1="507.50" y1="386.50" x2="507.50" y2="390.50" stroke="#111" stroke-width="1"/>
<text x="300.00" y="323.50" font-size="10.5" text-anchor="middle" font-weight="bold" transform="rotate(-90 300.00 323.50)" fill="#111">IgG fucosylation</text>
<text x="312.60" y="323.50" font-size="10.5" text-anchor="middle" font-weight="bold" transform="rotate(-90 312.60 323.50)" fill="#111">(% of total IgG)</text>
<path d="M352.3 277.8L377.4 285.4L402.4 296.2" stroke="#111" stroke-width="1.1" fill="none"/>
<path d="M352.3 278.2L377.4 290L402.4 299.2" stroke="#111" stroke-width="1.1" fill="none"/>
<path d="M352.3 278.6L377.4 292.5L402.4 301.5" stroke="#111" stroke-width="1.1" fill="none"/>
<path d="M352.3 279L377.4 294.6L402.4 303.5" stroke="#111" stroke-width="1.1" fill="none"/>
<path d="M352.3 279.4L377.4 299.2L402.4 308.5" stroke="#111" stroke-width="1.1" fill="none"/>
<path d="M352.3 279.8L377.4 304.6L402.4 313.5" stroke="#111" stroke-width="1.1" fill="none"/>
<path d="M352.3 280.2L377.4 312.3L402.4 320.8" stroke="#111" stroke-width="1.1" fill="none"/>
<path d="M352.3 287.2L377.4 335.7L402.4 335.5" stroke="#111" stroke-width="1.1" fill="none"/>
<rect x="349.70" y="275.20" width="5.20" height="5.20" fill="#111" stroke="#111" stroke-width="0.5"/>
<rect x="349.70" y="275.60" width="5.20" height="5.20" fill="#111" stroke="#111" stroke-width="0.5"/>
<rect x="349.70" y="276.00" width="5.20" height="5.20" fill="#111" stroke="#111" stroke-width="0.5"/>
<rect x="349.70" y="276.40" width="5.20" height="5.20" fill="#111" stroke="#111" stroke-width="0.5"/>
<rect x="349.70" y="276.80" width="5.20" height="5.20" fill="#111" stroke="#111" stroke-width="0.5"/>
<rect x="349.70" y="277.20" width="5.20" height="5.20" fill="#111" stroke="#111" stroke-width="0.5"/>
<rect x="349.70" y="277.60" width="5.20" height="5.20" fill="#111" stroke="#111" stroke-width="0.5"/>
<rect x="349.70" y="284.60" width="5.20" height="5.20" fill="#111" stroke="#111" stroke-width="0.5"/>
<circle cx="377.40" cy="285.40" r="2.3" fill="#fff" stroke="#111" stroke-width="1.3"/>
<circle cx="377.40" cy="290.00" r="2.3" fill="#fff" stroke="#111" stroke-width="1.3"/>
<circle cx="377.40" cy="292.50" r="2.3" fill="#fff" stroke="#111" stroke-width="1.3"/>
<circle cx="377.40" cy="294.60" r="2.3" fill="#fff" stroke="#111" stroke-width="1.3"/>
<circle cx="377.40" cy="299.20" r="2.3" fill="#fff" stroke="#111" stroke-width="1.3"/>
<circle cx="377.40" cy="304.60" r="2.3" fill="#fff" stroke="#111" stroke-width="1.3"/>
<circle cx="377.40" cy="312.30" r="2.3" fill="#fff" stroke="#111" stroke-width="1.3"/>
<circle cx="377.40" cy="335.70" r="2.3" fill="#fff" stroke="#111" stroke-width="1.3"/>
<path d="M399.90 298.50L404.90 298.50L402.40 294.00Z" fill="#fff" stroke="#111" stroke-width="1.3"/>
<path d="M399.90 301.50L404.90 301.50L402.40 297.00Z" fill="#fff" stroke="#111" stroke-width="1.3"/>
<path d="M399.90 303.80L404.90 303.80L402.40 299.30Z" fill="#fff" stroke="#111" stroke-width="1.3"/>
<path d="M399.90 305.80L404.90 305.80L402.40 301.30Z" fill="#fff" stroke="#111" stroke-width="1.3"/>
<path d="M399.90 310.80L404.90 310.80L402.40 306.30Z" fill="#fff" stroke="#111" stroke-width="1.3"/>
<path d="M399.90 315.80L404.90 315.80L402.40 311.30Z" fill="#fff" stroke="#111" stroke-width="1.3"/>
<path d="M399.90 323.10L404.90 323.10L402.40 318.60Z" fill="#fff" stroke="#111" stroke-width="1.3"/>
<path d="M399.90 337.80L404.90 337.80L402.40 333.30Z" fill="#fff" stroke="#111" stroke-width="1.3"/>
<path d="M351.80 272.00V267.00H402.40V272.00" stroke="#111" stroke-width="1.2" fill="none"/>
<text x="377.10" y="269.60" font-size="11" text-anchor="middle" font-weight="bold" fill="#111" stroke="#111" stroke-width="0.35">****</text>
<path d="M457.1 278L482.1 283L507.5 284.6" stroke="#111" stroke-width="1.1" fill="none"/>
<path d="M457.1 278L482.1 291.5L507.5 293.4" stroke="#111" stroke-width="1.1" fill="none"/>
<path d="M457.1 278L482.1 299L507.5 296" stroke="#111" stroke-width="1.1" fill="none"/>
<path d="M457.1 287.6L482.1 292.7L507.5 296" stroke="#111" stroke-width="1.1" fill="none"/>
<rect x="454.50" y="275.40" width="5.20" height="5.20" fill="#111" stroke="#111" stroke-width="0.5"/>
<rect x="454.50" y="275.40" width="5.20" height="5.20" fill="#111" stroke="#111" stroke-width="0.5"/>
<rect x="454.50" y="275.40" width="5.20" height="5.20" fill="#111" stroke="#111" stroke-width="0.5"/>
<rect x="454.50" y="285.00" width="5.20" height="5.20" fill="#111" stroke="#111" stroke-width="0.5"/>
<circle cx="482.10" cy="283.00" r="2.3" fill="#fff" stroke="#111" stroke-width="1.3"/>
<circle cx="482.10" cy="291.50" r="2.3" fill="#fff" stroke="#111" stroke-width="1.3"/>
<circle cx="482.10" cy="299.00" r="2.3" fill="#fff" stroke="#111" stroke-width="1.3"/>
<circle cx="482.10" cy="292.70" r="2.3" fill="#fff" stroke="#111" stroke-width="1.3"/>
<path d="M505.00 286.90L510.00 286.90L507.50 282.40Z" fill="#fff" stroke="#111" stroke-width="1.3"/>
<path d="M505.00 295.70L510.00 295.70L507.50 291.20Z" fill="#fff" stroke="#111" stroke-width="1.3"/>
<path d="M505.00 298.30L510.00 298.30L507.50 293.80Z" fill="#fff" stroke="#111" stroke-width="1.3"/>
<path d="M505.00 298.30L510.00 298.30L507.50 293.80Z" fill="#fff" stroke="#111" stroke-width="1.3"/>
<path d="M456.60 271.60V267.00H507.50V271.60" stroke="#111" stroke-width="1.2" fill="none"/>
<text x="482.05" y="269.40" font-size="11" text-anchor="middle" font-weight="bold" fill="#111" stroke="#111" stroke-width="0.35">*</text>
<text x="356.00" y="397.30" font-size="10.8" text-anchor="end" transform="rotate(-45 356.00 397.30)" fill="#111">Total Plasma</text>
<text x="381.10" y="397.30" font-size="10.8" text-anchor="end" transform="rotate(-45 381.10 397.30)" fill="#111">Control incubation</text>
<text x="406.10" y="397.30" font-size="10.8" text-anchor="end" transform="rotate(-45 406.10 397.30)" fill="#111">Acid elution</text>
<text x="460.80" y="397.30" font-size="10.8" text-anchor="end" transform="rotate(-45 460.80 397.30)" fill="#111">Total Plasma</text>
<text x="485.80" y="397.30" font-size="10.8" text-anchor="end" transform="rotate(-45 485.80 397.30)" fill="#111">Control incubation</text>
<text x="511.20" y="397.30" font-size="10.8" text-anchor="end" transform="rotate(-45 511.20 397.30)" fill="#111">Acid elution</text>
<text x="1.00" y="495.30" font-size="14.5" text-anchor="start" fill="#111">E</text>
<text x="154.60" y="494.20" font-size="11.6" text-anchor="middle" font-weight="bold" fill="#111">Fucosylated anti-RhD IgG1</text>
<text x="411.60" y="494.20" font-size="11.6" text-anchor="middle" font-weight="bold" fill="#111">Hypofucosylated anti-RhD IgG1</text>
<line x1="46.20" y1="500.00" x2="46.20" y2="622.00" stroke="#111" stroke-width="1.2"/>
<line x1="45.70" y1="621.50" x2="265.00" y2="621.50" stroke="#111" stroke-width="1.2"/>
<line x1="41.20" y1="621.50" x2="46.20" y2="621.50" stroke="#111" stroke-width="1.1"/>
<text x="40.20" y="625.30" font-size="10.5" text-anchor="end" fill="#111">0</text>
<line x1="41.20" y1="601.50" x2="46.20" y2="601.50" stroke="#111" stroke-width="1.1"/>
<text x="40.20" y="605.30" font-size="10.5" text-anchor="end" fill="#111">2</text>
<line x1="41.20" y1="581.50" x2="46.20" y2="581.50" stroke="#111" stroke-width="1.1"/>
<text x="40.20" y="585.30" font-size="10.5" text-anchor="end" fill="#111">4</text>
<line x1="41.20" y1="561.50" x2="46.20" y2="561.50" stroke="#111" stroke-width="1.1"/>
<text x="40.20" y="565.30" font-size="10.5" text-anchor="end" fill="#111">6</text>
<line x1="41.20" y1="541.50" x2="46.20" y2="541.50" stroke="#111" stroke-width="1.1"/>
<text x="40.20" y="545.30" font-size="10.5" text-anchor="end" fill="#111">8</text>
<line x1="41.20" y1="521.50" x2="46.20" y2="521.50" stroke="#111" stroke-width="1.1"/>
<text x="40.20" y="525.30" font-size="10.5" text-anchor="end" fill="#111">10</text>
<line x1="41.20" y1="501.50" x2="46.20" y2="501.50" stroke="#111" stroke-width="1.1"/>
<text x="40.20" y="505.30" font-size="10.5" text-anchor="end" fill="#111">12</text>
<line x1="300.00" y1="500.00" x2="300.00" y2="622.00" stroke="#111" stroke-width="1.2"/>
<line x1="299.50" y1="621.50" x2="518.50" y2="621.50" stroke="#111" stroke-width="1.2"/>
<line x1="295.00" y1="621.50" x2="300.00" y2="621.50" stroke="#111" stroke-width="1.1"/>
<text x="294.00" y="625.30" font-size="10.5" text-anchor="end" fill="#111">0</text>
<line x1="295.00" y1="581.50" x2="300.00" y2="581.50" stroke="#111" stroke-width="1.1"/>
<text x="294.00" y="585.30" font-size="10.5" text-anchor="end" fill="#111">20</text>
<line x1="295.00" y1="541.50" x2="300.00" y2="541.50" stroke="#111" stroke-width="1.1"/>
<text x="294.00" y="545.30" font-size="10.5" text-anchor="end" fill="#111">40</text>
<line x1="295.00" y1="501.50" x2="300.00" y2="501.50" stroke="#111" stroke-width="1.1"/>
<text x="294.00" y="505.30" font-size="10.5" text-anchor="end" fill="#111">60</text>
<text x="18.60" y="561.00" font-size="10.9" text-anchor="middle" font-weight="bold" transform="rotate(-90 18.60 561.00)" fill="#111">ADCC (%)</text>
<rect x="51.50" y="570.80" width="10.90" height="50.70" fill="#fff" stroke="#111" stroke-width="1.1"/>
<rect x="62.40" y="587.70" width="10.90" height="33.80" fill="#3a3a3a" stroke="#111" stroke-width="1.1"/>
<rect x="73.30" y="611.50" width="10.90" height="10.00" fill="#a6a6a6" stroke="#111" stroke-width="1.1"/>
<rect x="84.20" y="588.50" width="10.90" height="33.00" fill="url(#h)" stroke="#111" stroke-width="1.1"/>
<line x1="56.95" y1="565.80" x2="56.95" y2="575.80" stroke="#111" stroke-width="1.2"/>
<line x1="54.65" y1="565.80" x2="59.25" y2="565.80" stroke="#111" stroke-width="1.2"/>
<line x1="54.65" y1="575.80" x2="59.25" y2="575.80" stroke="#111" stroke-width="1.2"/>
<path d="M54.60 563.76L58.70 563.76L56.65 567.45Z" fill="#fff" stroke="#111" stroke-width="1.05"/>
<path d="M58.50 563.76L62.60 563.76L60.55 567.45Z" fill="#fff" stroke="#111" stroke-width="1.05"/>
<path d="M55.10 577.26L59.20 577.26L57.15 580.95Z" fill="#fff" stroke="#111" stroke-width="1.05"/>
<line x1="67.85" y1="582.70" x2="67.85" y2="592.70" stroke="#111" stroke-width="1.2"/>
<line x1="65.55" y1="582.70" x2="70.15" y2="582.70" stroke="#111" stroke-width="1.2"/>
<line x1="65.55" y1="592.70" x2="70.15" y2="592.70" stroke="#111" stroke-width="1.2"/>
<path d="M65.40 577.26L69.50 577.26L67.45 580.95Z" fill="#fff" stroke="#111" stroke-width="1.05"/>
<path d="M66.10 584.26L70.20 584.26L68.15 587.95Z" fill="#fff" stroke="#111" stroke-width="1.05"/>
<path d="M65.90 593.76L70.00 593.76L67.95 597.45Z" fill="#fff" stroke="#111" stroke-width="1.05"/>
<line x1="78.75" y1="609.50" x2="78.75" y2="613.50" stroke="#111" stroke-width="1.2"/>
<line x1="76.45" y1="609.50" x2="81.05" y2="609.50" stroke="#111" stroke-width="1.2"/>
<line x1="76.45" y1="613.50" x2="81.05" y2="613.50" stroke="#111" stroke-width="1.2"/>
<path d="M76.50 606.46L80.60 606.46L78.55 610.15Z" fill="#fff" stroke="#111" stroke-width="1.05"/>
<path d="M73.90 609.06L78.00 609.06L75.95 612.75Z" fill="#fff" stroke="#111" stroke-width="1.05"/>
<path d="M79.70 609.06L83.80 609.06L81.75 612.75Z" fill="#fff" stroke="#111" stroke-width="1.05"/>
<line x1="89.65" y1="586.00" x2="89.65" y2="591.00" stroke="#111" stroke-width="1.2"/>
<line x1="87.35" y1="586.00" x2="91.95" y2="586.00" stroke="#111" stroke-width="1.2"/>
<line x1="87.35" y1="591.00" x2="91.95" y2="591.00" stroke="#111" stroke-width="1.2"/>
<path d="M87.90 582.26L92.00 582.26L89.95 585.95Z" fill="#fff" stroke="#111" stroke-width="1.05"/>
<path d="M84.80 585.76L88.90 585.76L86.85 589.45Z" fill="#fff" stroke="#111" stroke-width="1.05"/>
<path d="M90.00 586.46L94.10 586.46L92.05 590.15Z" fill="#fff" stroke="#111" stroke-width="1.05"/>
<line x1="73.30" y1="621.50" x2="73.30" y2="625.50" stroke="#111" stroke-width="1.1"/>
<text x="73.50" y="635.30" font-size="10.6" text-anchor="middle" fill="#111">Donor 1</text>
<text x="73.50" y="647.20" font-size="10.7" text-anchor="middle" fill="#111">(Val/Val)</text>
<rect x="106.20" y="579.20" width="10.90" height="42.30" fill="#fff" stroke="#111" stroke-width="1.1"/>
<rect x="117.10" y="588.50" width="10.90" height="33.00" fill="#3a3a3a" stroke="#111" stroke-width="1.1"/>
<rect x="128.00" y="612.30" width="10.90" height="9.20" fill="#a6a6a6" stroke="#111" stroke-width="1.1"/>
<rect x="138.90" y="600.00" width="10.90" height="21.50" fill="url(#h)" stroke="#111" stroke-width="1.1"/>
<line x1="111.65" y1="577.20" x2="111.65" y2="581.20" stroke="#111" stroke-width="1.2"/>
<line x1="109.35" y1="577.20" x2="113.95" y2="577.20" stroke="#111" stroke-width="1.2"/>
<line x1="109.35" y1="581.20" x2="113.95" y2="581.20" stroke="#111" stroke-width="1.2"/>
<path d="M109.60 572.76L113.70 572.76L111.65 576.45Z" fill="#fff" stroke="#111" stroke-width="1.05"/>
<path d="M106.50 579.06L110.60 579.06L108.55 582.75Z" fill="#fff" stroke="#111" stroke-width="1.05"/>
<path d="M112.70 578.26L116.80 578.26L114.75 581.95Z" fill="#fff" stroke="#111" stroke-width="1.05"/>
<line x1="122.55" y1="584.50" x2="122.55" y2="592.50" stroke="#111" stroke-width="1.2"/>
<line x1="120.25" y1="584.50" x2="124.85" y2="584.50" stroke="#111" stroke-width="1.2"/>
<line x1="120.25" y1="592.50" x2="124.85" y2="592.50" stroke="#111" stroke-width="1.2"/>
<path d="M120.70 579.06L124.80 579.06L122.75 582.75Z" fill="#fff" stroke="#111" stroke-width="1.05"/>
<path d="M117.30 588.56L121.40 588.56L119.35 592.25Z" fill="#fff" stroke="#111" stroke-width="1.05"/>
<path d="M124.40 588.56L128.50 588.56L126.45 592.25Z" fill="#fff" stroke="#111" stroke-width="1.05"/>
<line x1="133.45" y1="609.30" x2="133.45" y2="615.30" stroke="#111" stroke-width="1.2"/>
<line x1="131.15" y1="609.30" x2="135.75" y2="609.30" stroke="#111" stroke-width="1.2"/>
<line x1="131.15" y1="615.30" x2="135.75" y2="615.30" stroke="#111" stroke-width="1.2"/>
<path d="M128.40 606.76L132.50 606.76L130.45 610.45Z" fill="#fff" stroke="#111" stroke-width="1.05"/>
<path d="M135.20 607.46L139.30 607.46L137.25 611.15Z" fill="#fff" stroke="#111" stroke-width="1.05"/>
<path d="M131.70 615.66L135.80 615.66L133.75 619.35Z" fill="#fff" stroke="#111" stroke-width="1.05"/>
<line x1="144.35" y1="596.50" x2="144.35" y2="603.50" stroke="#111" stroke-width="1.2"/>
<line x1="142.05" y1="596.50" x2="146.65" y2="596.50" stroke="#111" stroke-width="1.2"/>
<line x1="142.05" y1="603.50" x2="146.65" y2="603.50" stroke="#111" stroke-width="1.2"/>
<path d="M139.20 594.46L143.30 594.46L141.25 598.15Z" fill="#fff" stroke="#111" stroke-width="1.05"/>
<path d="M145.90 594.46L150.00 594.46L147.95 598.15Z" fill="#fff" stroke="#111" stroke-width="1.05"/>
<path d="M142.50 602.06L146.60 602.06L144.55 605.75Z" fill="#fff" stroke="#111" stroke-width="1.05"/>
<line x1="128.00" y1="621.50" x2="128.00" y2="625.50" stroke="#111" stroke-width="1.1"/>
<text x="128.20" y="635.30" font-size="10.6" text-anchor="middle" fill="#111">Donor 2</text>
<text x="128.20" y="647.20" font-size="10.7" text-anchor="middle" fill="#111">(Val/Val)</text>
<rect x="161.00" y="566.00" width="10.90" height="55.50" fill="#fff" stroke="#111" stroke-width="1.1"/>
<rect x="171.90" y="546.00" width="10.90" height="75.50" fill="#3a3a3a" stroke="#111" stroke-width="1.1"/>
<rect x="182.80" y="577.00" width="10.90" height="44.50" fill="#a6a6a6" stroke="#111" stroke-width="1.1"/>
<rect x="193.70" y="530.00" width="10.90" height="91.50" fill="url(#h)" stroke="#111" stroke-width="1.1"/>
<line x1="166.45" y1="559.30" x2="166.45" y2="572.70" stroke="#111" stroke-width="1.2"/>
<line x1="164.15" y1="559.30" x2="168.75" y2="559.30" stroke="#111" stroke-width="1.2"/>
<line x1="164.15" y1="572.70" x2="168.75" y2="572.70" stroke="#111" stroke-width="1.2"/>
<path d="M164.40 550.76L168.50 550.76L166.45 554.45Z" fill="#fff" stroke="#111" stroke-width="1.05"/>
<path d="M164.40 567.26L168.50 567.26L166.45 570.95Z" fill="#fff" stroke="#111" stroke-width="1.05"/>
<path d="M164.40 573.26L168.50 573.26L166.45 576.95Z" fill="#fff" stroke="#111" stroke-width="1.05"/>
<line x1="177.35" y1="539.50" x2="177.35" y2="552.50" stroke="#111" stroke-width="1.2"/>
<line x1="175.05" y1="539.50" x2="179.65" y2="539.50" stroke="#111" stroke-width="1.2"/>
<line x1="175.05" y1="552.50" x2="179.65" y2="552.50" stroke="#111" stroke-width="1.2"/>
<path d="M175.30 531.76L179.40 531.76L177.35 535.45Z" fill="#fff" stroke="#111" stroke-width="1.05"/>
<path d="M175.30 547.26L179.40 547.26L177.35 550.95Z" fill="#fff" stroke="#111" stroke-width="1.05"/>
<path d="M175.30 552.76L179.40 552.76L177.35 556.45Z" fill="#fff" stroke="#111" stroke-width="1.05"/>
<line x1="188.25" y1="575.00" x2="188.25" y2="579.00" stroke="#111" stroke-width="1.2"/>
<line x1="185.95" y1="575.00" x2="190.55" y2="575.00" stroke="#111" stroke-width="1.2"/>
<line x1="185.95" y1="579.00" x2="190.55" y2="579.00" stroke="#111" stroke-width="1.2"/>
<path d="M183.00 576.26L187.10 576.26L185.05 579.95Z" fill="#fff" stroke="#111" stroke-width="1.05"/>
<path d="M186.40 570.26L190.50 570.26L188.45 573.95Z" fill="#fff" stroke="#111" stroke-width="1.05"/>
<path d="M189.90 573.76L194.00 573.76L191.95 577.45Z" fill="#fff" stroke="#111" stroke-width="1.05"/>
<line x1="199.15" y1="523.50" x2="199.15" y2="536.50" stroke="#111" stroke-width="1.2"/>
<line x1="196.85" y1="523.50" x2="201.45" y2="523.50" stroke="#111" stroke-width="1.2"/>
<line x1="196.85" y1="536.50" x2="201.45" y2="536.50" stroke="#111" stroke-width="1.2"/>
<path d="M197.00 515.26L201.10 515.26L199.05 518.95Z" fill="#fff" stroke="#111" stroke-width="1.05"/>
<path d="M194.30 533.76L198.40 533.76L196.35 537.45Z" fill="#fff" stroke="#111" stroke-width="1.05"/>
<path d="M200.30 533.76L204.40 533.76L202.35 537.45Z" fill="#fff" stroke="#111" stroke-width="1.05"/>
<line x1="182.80" y1="621.50" x2="182.80" y2="625.50" stroke="#111" stroke-width="1.1"/>
<text x="183.00" y="635.30" font-size="10.6" text-anchor="middle" fill="#111">Donor 3</text>
<text x="183.00" y="647.20" font-size="10.7" text-anchor="middle" fill="#111">(Val/Phe)</text>
<rect x="216.00" y="576.00" width="10.90" height="45.50" fill="#fff" stroke="#111" stroke-width="1.1"/>
<rect x="226.90" y="565.00" width="10.90" height="56.50" fill="#3a3a3a" stroke="#111" stroke-width="1.1"/>
<rect x="237.80" y="616.50" width="10.90" height="5.00" fill="#a6a6a6" stroke="#111" stroke-width="1.1"/>
<rect x="248.70" y="590.00" width="10.90" height="31.50" fill="url(#h)" stroke="#111" stroke-width="1.1"/>
<line x1="221.45" y1="574.50" x2="221.45" y2="577.50" stroke="#111" stroke-width="1.2"/>
<line x1="219.15" y1="574.50" x2="223.75" y2="574.50" stroke="#111" stroke-width="1.2"/>
<line x1="219.15" y1="577.50" x2="223.75" y2="577.50" stroke="#111" stroke-width="1.2"/>
<path d="M215.60 575.76L219.70 575.76L217.65 579.45Z" fill="#fff" stroke="#111" stroke-width="1.05"/>
<path d="M219.00 571.26L223.10 571.26L221.05 574.95Z" fill="#fff" stroke="#111" stroke-width="1.05"/>
<path d="M222.40 572.26L226.50 572.26L224.45 575.95Z" fill="#fff" stroke="#111" stroke-width="1.05"/>
<line x1="232.35" y1="559.50" x2="232.35" y2="570.50" stroke="#111" stroke-width="1.2"/>
<line x1="230.05" y1="559.50" x2="234.65" y2="559.50" stroke="#111" stroke-width="1.2"/>
<line x1="230.05" y1="570.50" x2="234.65" y2="570.50" stroke="#111" stroke-width="1.2"/>
<path d="M230.00 553.26L234.10 553.26L232.05 556.95Z" fill="#fff" stroke="#111" stroke-width="1.05"/>
<path d="M230.00 564.76L234.10 564.76L232.05 568.45Z" fill="#fff" stroke="#111" stroke-width="1.05"/>
<path d="M230.00 568.26L234.10 568.26L232.05 571.95Z" fill="#fff" stroke="#111" stroke-width="1.05"/>
<line x1="243.25" y1="614.50" x2="243.25" y2="618.50" stroke="#111" stroke-width="1.2"/>
<line x1="240.95" y1="614.50" x2="245.55" y2="614.50" stroke="#111" stroke-width="1.2"/>
<line x1="240.95" y1="618.50" x2="245.55" y2="618.50" stroke="#111" stroke-width="1.2"/>
<path d="M237.60 616.26L241.70 616.26L239.65 619.95Z" fill="#fff" stroke="#111" stroke-width="1.05"/>
<path d="M241.00 610.76L245.10 610.76L243.05 614.45Z" fill="#fff" stroke="#111" stroke-width="1.05"/>
<path d="M244.40 612.26L248.50 612.26L246.45 615.95Z" fill="#fff" stroke="#111" stroke-width="1.05"/>
<line x1="254.15" y1="585.50" x2="254.15" y2="594.50" stroke="#111" stroke-width="1.2"/>
<line x1="251.85" y1="585.50" x2="256.45" y2="585.50" stroke="#111" stroke-width="1.2"/>
<line x1="251.85" y1="594.50" x2="256.45" y2="594.50" stroke="#111" stroke-width="1.2"/>
<path d="M251.60 579.26L255.70 579.26L253.65 582.95Z" fill="#fff" stroke="#111" stroke-width="1.05"/>
<path d="M251.60 589.26L255.70 589.26L253.65 592.95Z" fill="#fff" stroke="#111" stroke-width="1.05"/>
<path d="M251.60 594.26L255.70 594.26L253.65 597.95Z" fill="#fff" stroke="#111" stroke-width="1.05"/>
<line x1="237.80" y1="621.50" x2="237.80" y2="625.50" stroke="#111" stroke-width="1.1"/>
<text x="238.00" y="635.30" font-size="10.6" text-anchor="middle" fill="#111">Donor 4</text>
<text x="238.00" y="647.20" font-size="10.7" text-anchor="middle" fill="#111">(Phe/Phe)</text>
<rect x="305.10" y="539.50" width="10.95" height="82.00" fill="#fff" stroke="#111" stroke-width="1.1"/>
<rect x="316.05" y="542.50" width="10.95" height="79.00" fill="#3a3a3a" stroke="#111" stroke-width="1.1"/>
<rect x="327.00" y="546.10" width="10.95" height="75.40" fill="#a6a6a6" stroke="#111" stroke-width="1.1"/>
<rect x="337.95" y="556.50" width="10.95" height="65.00" fill="url(#h)" stroke="#111" stroke-width="1.1"/>
<line x1="310.58" y1="534.10" x2="310.58" y2="544.90" stroke="#111" stroke-width="1.2"/>
<line x1="308.28" y1="534.10" x2="312.88" y2="534.10" stroke="#111" stroke-width="1.2"/>
<line x1="308.28" y1="544.90" x2="312.88" y2="544.90" stroke="#111" stroke-width="1.2"/>
<path d="M308.13 525.76L312.23 525.76L310.18 529.45Z" fill="#fff" stroke="#111" stroke-width="1.05"/>
<path d="M305.03 544.36L309.13 544.36L307.08 548.05Z" fill="#fff" stroke="#111" stroke-width="1.05"/>
<path d="M311.83 541.36L315.93 541.36L313.88 545.05Z" fill="#fff" stroke="#111" stroke-width="1.05"/>
<line x1="321.53" y1="538.50" x2="321.53" y2="546.50" stroke="#111" stroke-width="1.2"/>
<line x1="319.23" y1="538.50" x2="323.83" y2="538.50" stroke="#111" stroke-width="1.2"/>
<line x1="319.23" y1="546.50" x2="323.83" y2="546.50" stroke="#111" stroke-width="1.2"/>
<path d="M319.68 533.16L323.78 533.16L321.73 536.85Z" fill="#fff" stroke="#111" stroke-width="1.05"/>
<path d="M319.68 541.36L323.78 541.36L321.73 545.05Z" fill="#fff" stroke="#111" stroke-width="1.05"/>
<path d="M319.68 546.16L323.78 546.16L321.73 549.85Z" fill="#fff" stroke="#111" stroke-width="1.05"/>
<line x1="332.48" y1="543.50" x2="332.48" y2="548.70" stroke="#111" stroke-width="1.2"/>
<line x1="330.18" y1="543.50" x2="334.78" y2="543.50" stroke="#111" stroke-width="1.2"/>
<line x1="330.18" y1="548.70" x2="334.78" y2="548.70" stroke="#111" stroke-width="1.2"/>
<path d="M334.23 539.96L338.33 539.96L336.28 543.65Z" fill="#fff" stroke="#111" stroke-width="1.05"/>
<path d="M331.03 541.96L335.13 541.96L333.08 545.65Z" fill="#fff" stroke="#111" stroke-width="1.05"/>
<path d="M329.73 548.56L333.83 548.56L331.78 552.25Z" fill="#fff" stroke="#111" stroke-width="1.05"/>
<line x1="343.43" y1="551.10" x2="343.43" y2="561.90" stroke="#111" stroke-width="1.2"/>
<line x1="341.13" y1="551.10" x2="345.73" y2="551.10" stroke="#111" stroke-width="1.2"/>
<line x1="341.13" y1="561.90" x2="345.73" y2="561.90" stroke="#111" stroke-width="1.2"/>
<path d="M341.28 543.76L345.38 543.76L343.33 547.45Z" fill="#fff" stroke="#111" stroke-width="1.05"/>
<path d="M338.78 557.76L342.88 557.76L340.83 561.45Z" fill="#fff" stroke="#111" stroke-width="1.05"/>
<path d="M341.98 560.96L346.08 560.96L344.03 564.65Z" fill="#fff" stroke="#111" stroke-width="1.05"/>
<line x1="327.00" y1="621.50" x2="327.00" y2="625.50" stroke="#111" stroke-width="1.1"/>
<text x="327.20" y="635.30" font-size="10.6" text-anchor="middle" fill="#111">Donor 1</text>
<text x="327.20" y="647.20" font-size="10.7" text-anchor="middle" fill="#111">(Val/Val)</text>
<rect x="359.80" y="546.10" width="10.95" height="75.40" fill="#fff" stroke="#111" stroke-width="1.1"/>
<rect x="370.75" y="581.50" width="10.95" height="40.00" fill="#3a3a3a" stroke="#111" stroke-width="1.1"/>
<rect x="381.70" y="566.90" width="10.95" height="54.60" fill="#a6a6a6" stroke="#111" stroke-width="1.1"/>
<rect x="392.65" y="573.70" width="10.95" height="47.80" fill="url(#h)" stroke="#111" stroke-width="1.1"/>
<line x1="365.28" y1="538.10" x2="365.28" y2="554.10" stroke="#111" stroke-width="1.2"/>
<line x1="362.98" y1="538.10" x2="367.58" y2="538.10" stroke="#111" stroke-width="1.2"/>
<line x1="362.98" y1="554.10" x2="367.58" y2="554.10" stroke="#111" stroke-width="1.2"/>
<path d="M362.53 536.96L366.63 536.96L364.58 540.65Z" fill="#fff" stroke="#111" stroke-width="1.05"/>
<path d="M366.93 535.76L371.03 535.76L368.98 539.45Z" fill="#fff" stroke="#111" stroke-width="1.05"/>
<path d="M362.53 559.76L366.63 559.76L364.58 563.45Z" fill="#fff" stroke="#111" stroke-width="1.05"/>
<line x1="376.23" y1="577.50" x2="376.23" y2="585.50" stroke="#111" stroke-width="1.2"/>
<line x1="373.93" y1="577.50" x2="378.53" y2="577.50" stroke="#111" stroke-width="1.2"/>
<line x1="373.93" y1="585.50" x2="378.53" y2="585.50" stroke="#111" stroke-width="1.2"/>
<path d="M373.78 571.96L377.88 571.96L375.83 575.65Z" fill="#fff" stroke="#111" stroke-width="1.05"/>
<path d="M371.28 580.56L375.38 580.56L373.33 584.25Z" fill="#fff" stroke="#111" stroke-width="1.05"/>
<path d="M376.68 581.36L380.78 581.36L378.73 585.05Z" fill="#fff" stroke="#111" stroke-width="1.05"/>
<line x1="387.18" y1="565.30" x2="387.18" y2="568.50" stroke="#111" stroke-width="1.2"/>
<line x1="384.88" y1="565.30" x2="389.48" y2="565.30" stroke="#111" stroke-width="1.2"/>
<line x1="384.88" y1="568.50" x2="389.48" y2="568.50" stroke="#111" stroke-width="1.2"/>
<path d="M384.62 561.76L388.73 561.76L386.68 565.45Z" fill="#fff" stroke="#111" stroke-width="1.05"/>
<path d="M381.32 566.56L385.43 566.56L383.38 570.25Z" fill="#fff" stroke="#111" stroke-width="1.05"/>
<path d="M388.82 565.16L392.93 565.16L390.88 568.85Z" fill="#fff" stroke="#111" stroke-width="1.05"/>
<line x1="398.12" y1="572.10" x2="398.12" y2="575.30" stroke="#111" stroke-width="1.2"/>
<line x1="395.82" y1="572.10" x2="400.43" y2="572.10" stroke="#111" stroke-width="1.2"/>
<line x1="395.82" y1="575.30" x2="400.43" y2="575.30" stroke="#111" stroke-width="1.2"/>
<path d="M393.77 571.56L397.88 571.56L395.82 575.25Z" fill="#fff" stroke="#111" stroke-width="1.05"/>
<path d="M397.38 573.96L401.48 573.96L399.43 577.65Z" fill="#fff" stroke="#111" stroke-width="1.05"/>
<path d="M399.88 570.76L403.98 570.76L401.93 574.45Z" fill="#fff" stroke="#111" stroke-width="1.05"/>
<line x1="381.70" y1="621.50" x2="381.70" y2="625.50" stroke="#111" stroke-width="1.1"/>
<text x="381.90" y="635.30" font-size="10.6" text-anchor="middle" fill="#111">Donor 2</text>
<text x="381.90" y="647.20" font-size="10.7" text-anchor="middle" fill="#111">(Val/Val)</text>
<rect x="414.40" y="534.80" width="10.95" height="86.70" fill="#fff" stroke="#111" stroke-width="1.1"/>
<rect x="425.35" y="568.30" width="10.95" height="53.20" fill="#3a3a3a" stroke="#111" stroke-width="1.1"/>
<rect x="436.30" y="570.70" width="10.95" height="50.80" fill="#a6a6a6" stroke="#111" stroke-width="1.1"/>
<rect x="447.25" y="561.90" width="10.95" height="59.60" fill="url(#h)" stroke="#111" stroke-width="1.1"/>
<line x1="419.88" y1="529.40" x2="419.88" y2="540.20" stroke="#111" stroke-width="1.2"/>
<line x1="417.57" y1="529.40" x2="422.18" y2="529.40" stroke="#111" stroke-width="1.2"/>
<line x1="417.57" y1="540.20" x2="422.18" y2="540.20" stroke="#111" stroke-width="1.2"/>
<path d="M413.93 525.16L418.03 525.16L415.98 528.85Z" fill="#fff" stroke="#111" stroke-width="1.05"/>
<path d="M418.12 528.96L422.23 528.96L420.18 532.65Z" fill="#fff" stroke="#111" stroke-width="1.05"/>
<path d="M417.62 541.96L421.73 541.96L419.68 545.65Z" fill="#fff" stroke="#111" stroke-width="1.05"/>
<line x1="430.82" y1="565.10" x2="430.82" y2="571.50" stroke="#111" stroke-width="1.2"/>
<line x1="428.52" y1="565.10" x2="433.12" y2="565.10" stroke="#111" stroke-width="1.2"/>
<line x1="428.52" y1="571.50" x2="433.12" y2="571.50" stroke="#111" stroke-width="1.2"/>
<path d="M427.97 560.96L432.07 560.96L430.02 564.65Z" fill="#fff" stroke="#111" stroke-width="1.05"/>
<path d="M424.57 566.56L428.68 566.56L426.62 570.25Z" fill="#fff" stroke="#111" stroke-width="1.05"/>
<path d="M431.97 567.16L436.07 567.16L434.02 570.85Z" fill="#fff" stroke="#111" stroke-width="1.05"/>
<line x1="441.77" y1="568.30" x2="441.77" y2="573.10" stroke="#111" stroke-width="1.2"/>
<line x1="439.47" y1="568.30" x2="444.07" y2="568.30" stroke="#111" stroke-width="1.2"/>
<line x1="439.47" y1="573.10" x2="444.07" y2="573.10" stroke="#111" stroke-width="1.2"/>
<path d="M439.62 564.56L443.72 564.56L441.67 568.25Z" fill="#fff" stroke="#111" stroke-width="1.05"/>
<path d="M436.42 569.56L440.52 569.56L438.47 573.25Z" fill="#fff" stroke="#111" stroke-width="1.05"/>
<path d="M443.02 568.96L447.12 568.96L445.07 572.65Z" fill="#fff" stroke="#111" stroke-width="1.05"/>
<line x1="452.73" y1="558.90" x2="452.73" y2="564.90" stroke="#111" stroke-width="1.2"/>
<line x1="450.43" y1="558.90" x2="455.03" y2="558.90" stroke="#111" stroke-width="1.2"/>
<line x1="450.43" y1="564.90" x2="455.03" y2="564.90" stroke="#111" stroke-width="1.2"/>
<path d="M450.57 553.56L454.68 553.56L452.62 557.25Z" fill="#fff" stroke="#111" stroke-width="1.05"/>
<path d="M447.57 561.76L451.68 561.76L449.62 565.45Z" fill="#fff" stroke="#111" stroke-width="1.05"/>
<path d="M453.78 561.76L457.88 561.76L455.83 565.45Z" fill="#fff" stroke="#111" stroke-width="1.05"/>
<line x1="436.30" y1="621.50" x2="436.30" y2="625.50" stroke="#111" stroke-width="1.1"/>
<text x="436.50" y="635.30" font-size="10.6" text-anchor="middle" fill="#111">Donor 3</text>
<text x="436.50" y="647.20" font-size="10.7" text-anchor="middle" fill="#111">(Val/Phe)</text>
<rect x="469.00" y="531.50" width="10.95" height="90.00" fill="#fff" stroke="#111" stroke-width="1.1"/>
<rect x="479.95" y="551.50" width="10.95" height="70.00" fill="#3a3a3a" stroke="#111" stroke-width="1.1"/>
<rect x="490.90" y="550.30" width="10.95" height="71.20" fill="#a6a6a6" stroke="#111" stroke-width="1.1"/>
<rect x="501.85" y="547.10" width="10.95" height="74.40" fill="url(#h)" stroke="#111" stroke-width="1.1"/>
<line x1="474.48" y1="524.70" x2="474.48" y2="538.30" stroke="#111" stroke-width="1.2"/>
<line x1="472.18" y1="524.70" x2="476.78" y2="524.70" stroke="#111" stroke-width="1.2"/>
<line x1="472.18" y1="538.30" x2="476.78" y2="538.30" stroke="#111" stroke-width="1.2"/>
<path d="M472.43 516.56L476.53 516.56L474.48 520.25Z" fill="#fff" stroke="#111" stroke-width="1.05"/>
<path d="M472.43 532.56L476.53 532.56L474.48 536.25Z" fill="#fff" stroke="#111" stroke-width="1.05"/>
<path d="M472.43 540.36L476.53 540.36L474.48 544.05Z" fill="#fff" stroke="#111" stroke-width="1.05"/>
<line x1="485.43" y1="548.30" x2="485.43" y2="554.70" stroke="#111" stroke-width="1.2"/>
<line x1="483.12" y1="548.30" x2="487.73" y2="548.30" stroke="#111" stroke-width="1.2"/>
<line x1="483.12" y1="554.70" x2="487.73" y2="554.70" stroke="#111" stroke-width="1.2"/>
<path d="M483.48 541.96L487.58 541.96L485.53 545.65Z" fill="#fff" stroke="#111" stroke-width="1.05"/>
<path d="M480.27 550.96L484.38 550.96L482.32 554.65Z" fill="#fff" stroke="#111" stroke-width="1.05"/>
<path d="M486.68 550.96L490.78 550.96L488.73 554.65Z" fill="#fff" stroke="#111" stroke-width="1.05"/>
<line x1="496.38" y1="547.30" x2="496.38" y2="553.30" stroke="#111" stroke-width="1.2"/>
<line x1="494.07" y1="547.30" x2="498.68" y2="547.30" stroke="#111" stroke-width="1.2"/>
<line x1="494.07" y1="553.30" x2="498.68" y2="553.30" stroke="#111" stroke-width="1.2"/>
<path d="M494.62 541.96L498.73 541.96L496.68 545.65Z" fill="#fff" stroke="#111" stroke-width="1.05"/>
<path d="M491.02 549.76L495.12 549.76L493.07 553.45Z" fill="#fff" stroke="#111" stroke-width="1.05"/>
<path d="M497.82 548.56L501.93 548.56L499.88 552.25Z" fill="#fff" stroke="#111" stroke-width="1.05"/>
<line x1="507.33" y1="545.30" x2="507.33" y2="548.90" stroke="#111" stroke-width="1.2"/>
<line x1="505.03" y1="545.30" x2="509.63" y2="545.30" stroke="#111" stroke-width="1.2"/>
<line x1="505.03" y1="548.90" x2="509.63" y2="548.90" stroke="#111" stroke-width="1.2"/>
<path d="M504.78 542.76L508.88 542.76L506.83 546.45Z" fill="#fff" stroke="#111" stroke-width="1.05"/>
<path d="M509.68 541.16L513.77 541.16L511.73 544.85Z" fill="#fff" stroke="#111" stroke-width="1.05"/>
<path d="M501.78 546.76L505.88 546.76L503.83 550.45Z" fill="#fff" stroke="#111" stroke-width="1.05"/>
<line x1="490.90" y1="621.50" x2="490.90" y2="625.50" stroke="#111" stroke-width="1.1"/>
<text x="491.10" y="635.30" font-size="10.6" text-anchor="middle" fill="#111">Donor 4</text>
<text x="491.10" y="647.20" font-size="10.7" text-anchor="middle" fill="#111">(Phe/Phe)</text>
<path d="M67.85 571.40V565.40H78.75V571.40" stroke="#111" stroke-width="1.2" fill="none"/>
<text x="73.30" y="568.40" font-size="10" text-anchor="middle" font-weight="bold" fill="#111" stroke="#111" stroke-width="0.35">*</text>
<path d="M122.55 573.10V567.50H133.45V573.10" stroke="#111" stroke-width="1.2" fill="none"/>
<text x="128.00" y="570.50" font-size="10" text-anchor="middle" font-weight="bold" fill="#111" stroke="#111" stroke-width="0.35">*</text>
<path d="M177.35 524.50V519.00H188.25V524.50" stroke="#111" stroke-width="1.2" fill="none"/>
<text x="182.80" y="522.00" font-size="10" text-anchor="middle" font-weight="bold" fill="#111" stroke="#111" stroke-width="0.35">*</text>
<path d="M232.35 546.00V540.00H243.25V546.00" stroke="#111" stroke-width="1.2" fill="none"/>
<text x="237.80" y="543.00" font-size="10" text-anchor="middle" font-weight="bold" fill="#111" stroke="#111" stroke-width="0.35">**</text>
<path d="M365.28 531.40V526.40H376.23V531.40" stroke="#111" stroke-width="1.2" fill="none"/>
<text x="370.75" y="529.40" font-size="10" text-anchor="middle" font-weight="bold" fill="#111" stroke="#111" stroke-width="0.35">*</text>
<path d="M419.88 521.60V516.60H430.82V521.60" stroke="#111" stroke-width="1.2" fill="none"/>
<text x="425.35" y="519.60" font-size="10" text-anchor="middle" font-weight="bold" fill="#111" stroke="#111" stroke-width="0.35">*</text>
</svg></body></html>
